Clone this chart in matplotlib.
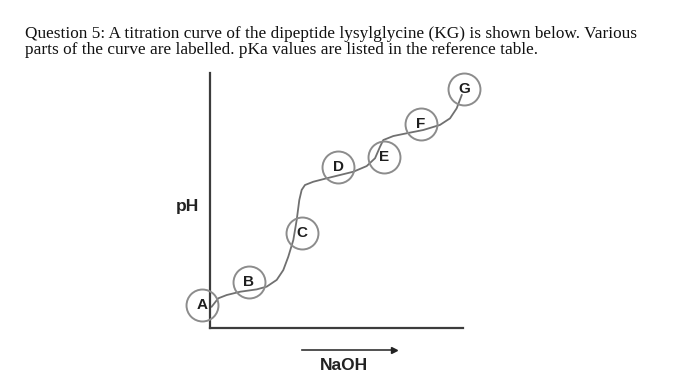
import matplotlib.pyplot as plt

# titration curve (equivalents of NaOH vs pH)
naoh = [0.020, 0.098, 0.198, 0.356, 0.554, 0.672, 0.791, 0.869, 0.928, 0.988,
        1.028, 1.059, 1.087, 1.126, 1.225, 1.384, 1.542, 1.700, 1.858, 1.957,
        2.016, 2.055, 2.174, 2.332, 2.529, 2.727, 2.846, 2.925, 2.985]
ph = [1.17, 1.63, 1.81, 1.99, 2.12, 2.27, 2.64, 3.18, 3.91, 4.83,
      5.93, 7.03, 7.58, 7.85, 8.03, 8.22, 8.40, 8.58, 8.89, 9.32,
      9.95, 10.32, 10.54, 10.69, 10.87, 11.15, 11.51, 12.06, 12.79]

# labelled points on the curve
labels = ["A", "B", "C", "D", "E", "F", "G"]
label_x = [-0.095, 0.462, 1.091, 1.518, 2.063, 2.502, 3.012]
label_y = [1.26, 2.53, 5.22, 8.84, 9.39, 11.20, 13.12]

title = ("Question 5: A titration curve of the dipeptide lysylglycine (KG) is shown below. Various\n"
         "parts of the curve are labelled. pKa values are listed in the reference table.")

fig = plt.figure(figsize=(7.0, 3.78), dpi=100)
ax = fig.add_axes([210 / 700, 50 / 378, 253 / 700, 255 / 378])
ax.set_xlim(0, 3)
ax.set_ylim(0, 14)
for s in ("top", "right"):
    ax.spines[s].set_visible(False)
for s in ("left", "bottom"):
    ax.spines[s].set_color("#3c3c3c")
    ax.spines[s].set_linewidth(1.6)
ax.set_xticks([])
ax.set_yticks([])
ax.patch.set_alpha(0)

ax.plot(naoh, ph, color="#707070", lw=1.3, clip_on=False, zorder=2,
        solid_joinstyle="round")
ax.plot(label_x, label_y, "o", ms=23, mfc="none", mec="#8c8c8c", mew=1.4,
        clip_on=False, zorder=3)
for lab, x, y in zip(labels, label_x, label_y):
    ax.text(x, y, lab, ha="center", va="center", fontsize=11, fontweight="bold",
            family="Liberation Sans", color="#1e1e1e", zorder=4)

fig.text(25 / 700, 1 - 26 / 378, title, ha="left", va="top", fontsize=12.4,
         family="Liberation Serif", color="#111111", linespacing=1.0)
fig.text(187 / 700, 1 - 206 / 378, "pH", ha="center", va="center", fontsize=12.5,
         fontweight="bold", family="Liberation Sans", color="#222222")
fig.text(344 / 700, 1 - 366 / 378, "NaOH", ha="center", va="center", fontsize=12.5,
         fontweight="bold", family="Liberation Sans", color="#222222")
fig.add_artist(plt.Line2D([302 / 700, 392 / 700], [1 - 350 / 378] * 2,
                          color="#333333", lw=1.2))
fig.add_artist(plt.Line2D([394 / 700], [1 - 350 / 378], marker=">", ms=5,
                          color="#222222", lw=0))

fig.savefig("out.png", dpi=100)
